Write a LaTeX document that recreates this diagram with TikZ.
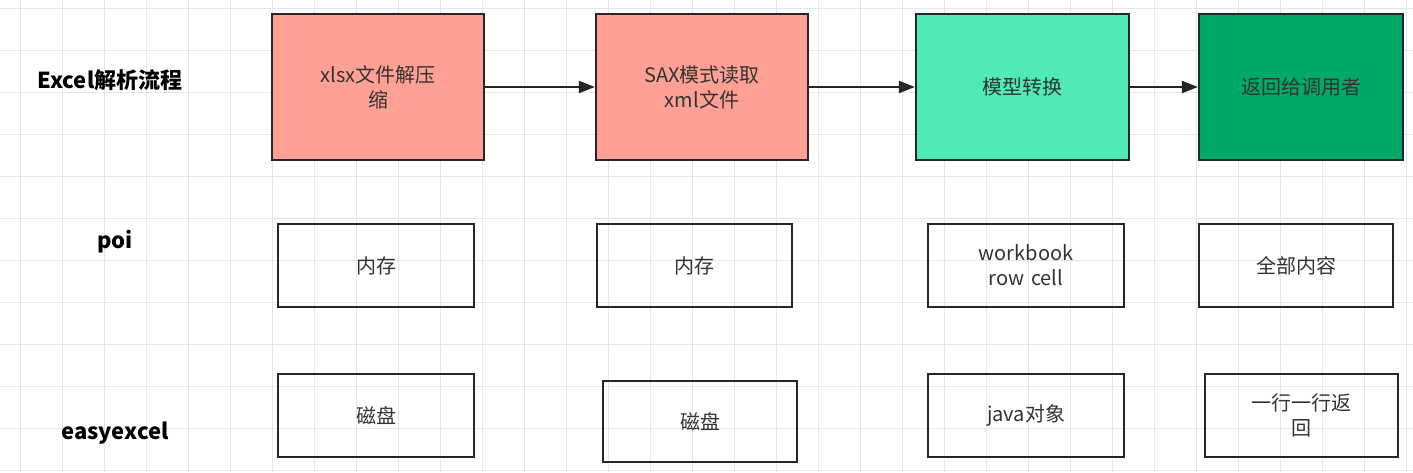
\documentclass[tikz,border=0pt]{standalone}
\usepackage{fontspec}
\setmainfont{Noto Sans CJK SC}
\usetikzlibrary{arrows.meta}
\definecolor{pinkf}{HTML}{FFA095}
\definecolor{lgreen}{HTML}{50EBB4}
\definecolor{dgreen}{HTML}{00A965}
\definecolor{gridc}{HTML}{E6E6E6}
\begin{document}
\begin{tikzpicture}[x=1pt,y=-1pt,
  box/.style={draw=black!85,line width=2.2pt,align=center,font=\fontsize{20}{25}\selectfont,text=black!80},
  lab/.style={font=\bfseries\fontsize{22}{26}\selectfont},
  arr/.style={-{Triangle[length=16pt,width=12pt]},line width=2.2pt,draw=black!85}]
\useasboundingbox (0,0) rectangle (1413,472);
\fill[white] (0,0) rectangle (1413,472);
\foreach \x in {20,62,...,1413} \draw[gridc,line width=0.6pt] (\x,0) -- (\x,472);
\foreach \y in {8,50,...,472} \draw[gridc,line width=0.6pt] (0,\y) -- (1413,\y);
\node[lab] (t1) at (110,80) {Excel解析流程};
\node[lab] (t2) at (115,242) {poi};
\node[lab] (t3) at (115,433) {easyexcel};
\node[box,fill=pinkf,minimum width=212pt,minimum height=146pt,text width=190pt] (a) at (378,87) {xlsx文件解压\\缩};
\node[box,fill=pinkf,minimum width=212pt,minimum height=146pt,text width=190pt] (b) at (702,87) {SAX模式读取\\xml文件};
\node[box,fill=lgreen,minimum width=213pt,minimum height=146pt] (c) at (1022.5,87) {模型转换};
\node[box,fill=dgreen,minimum width=204pt,minimum height=146pt] (d) at (1301,87) {返回给调用者};
\draw[arr] (a) -- (b);
\draw[arr] (b) -- (c);
\draw[arr] (c) -- (d);
\node[box,minimum width=196pt,minimum height=83pt] (p1) at (376,265.5) {内存};
\node[box,minimum width=195pt,minimum height=83pt] (p2) at (694.5,265.5) {内存};
\node[box,minimum width=196pt,minimum height=83pt,text width=180pt] (p3) at (1026,265.5) {workbook\\row cell};
\node[box,minimum width=194pt,minimum height=83pt] (p4) at (1296,265.5) {全部内容};
\node[box,minimum width=196pt,minimum height=83pt] (e1) at (376,415.5) {磁盘};
\node[box,minimum width=194pt,minimum height=81pt] (e2) at (700,421.5) {磁盘};
\node[box,minimum width=196pt,minimum height=83pt] (e3) at (1026,415.5) {java对象};
\node[box,minimum width=193pt,minimum height=83pt,text width=170pt] (e4) at (1301.5,415.5) {一行一行返\\回};
\end{tikzpicture}
\end{document}
